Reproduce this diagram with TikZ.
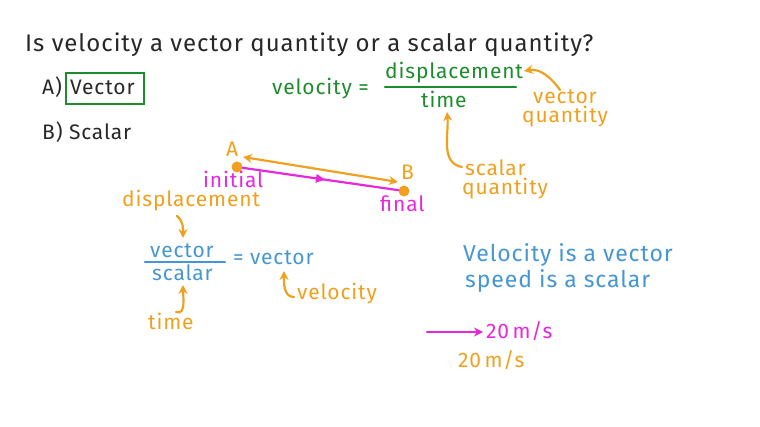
\documentclass[tikz,border=0pt]{standalone}
\usepackage{fontspec}
\setmainfont{Fira Sans}[LetterSpace=4]
\usetikzlibrary{arrows.meta}
\definecolor{ink}{RGB}{40,40,40}
\definecolor{grn}{RGB}{30,140,45}
\definecolor{org}{RGB}{240,160,30}
\definecolor{mag}{RGB}{230,40,220}
\definecolor{blu}{RGB}{70,150,210}
\tikzset{
  txt/.style={inner sep=0pt, anchor=base west, font=\fontsize{21}{24}\selectfont},
  two/.style={inner sep=0pt, anchor=base west, align=left, font=\fontsize{21}{19.5}\selectfont},
  big/.style={txt, font=\fontsize{24}{28}\selectfont},
  bl/.style={txt, font=\fontsize{23}{26}\selectfont},
  arr/.style={line width=2.2pt, line cap=round, -{Stealth[length=9pt,width=9pt]}},
  dot/.style={circle, fill=org, inner sep=0pt, minimum size=11pt},
}
\begin{document}
\begin{tikzpicture}[x=1pt,y=-1pt]
\useasboundingbox (0,0) rectangle (760,427);
% title
\node[big, text=ink] (title) at (25,52) {Is velocity a vector quantity or a scalar quantity?};
% answers
\node[txt, text=ink] (a) at (42,95) {A)};
\node[draw=grn, line width=2.2pt, anchor=north west, minimum width=78pt, minimum height=31pt, inner sep=0pt] (box) at (65,72) {};
\node[txt, text=ink] (av) at (70,95) {Vector};
\node[txt, text=ink] (b) at (42,140) {B) Scalar};
% velocity formula
\node[txt, text=grn] (vel) at (272,95) {velocity =};
\node[txt, text=grn] (disp) at (385,79) {displacement};
\coordinate (fl1) at (385,87);
\coordinate (fl2) at (516,87);
\draw[grn, line width=2.4pt, line cap=round] (fl1) -- (fl2);
\node[txt, text=grn] (time) at (421,108) {time};
% vector quantity label
\node[two, text=org] (vq) at (522,123) {\hspace*{11pt}vector\\quantity};
\coordinate (vqs) at (560,90);
\coordinate (vqe) at (524,71);
\draw[arr, org] (vqs) to[out=125,in=10] (vqe);
% scalar quantity
\node[two, text=org] (sq) at (462,195) {\hspace*{3pt}scalar\\quantity};
\coordinate (sqs) at (462,167);
\coordinate (sqe) at (447,112);
\draw[arr, org] (sqs) to[out=170,in=-85] (sqe);
% A and B
\node[txt, text=org] (lA) at (226,157) {A};
\node[txt, text=org] (lB) at (401,180) {B};
\node[dot] (dA) at (237,167) {};
\node[dot] (dB) at (404,191) {};
\coordinate (oA) at (243,157);
\coordinate (oB) at (398,182);
\draw[line width=2.2pt, org, line cap=round, {Stealth[length=9pt,width=9pt]}-{Stealth[length=9pt,width=9pt]}] (oA) -- (oB);
\draw[line width=2.2pt, mag, line cap=round] (dA) -- (dB);
\path (dA) -- node[sloped, pos=0.5, inner sep=0pt]{\tikz\fill[mag] (0,0) -- (-9pt,4.5pt) -- (-9pt,-4.5pt) -- cycle;} (dB);
\node[txt, text=mag] (ini) at (203,188) {initial};
\node[txt, text=mag] (fin) at (380,212) {final};
% displacement / time
\node[txt, text=org] (disp2) at (122,207) {displacement};
\coordinate (d2s) at (177,216);
\coordinate (d2e) at (183,238);
\draw[arr, org] (d2s) to[out=-40,in=90] (d2e);
\node[txt, text=blu] (vec) at (150,258) {vector};
\coordinate (f2a) at (145,262);
\coordinate (f2b) at (225,262);
\draw[blu, line width=2.4pt, line cap=round] (f2a) -- (f2b);
\node[txt, text=blu] (sca) at (152,281) {scalar};
\node[txt, text=blu] (eqv) at (233,265) {= vector};
\node[txt, text=org] (tim2) at (148,330) {time};
\coordinate (t2s) at (176,312);
\coordinate (t2e) at (183,285);
\draw[arr, org] (t2s) to[out=-20,in=-90] (t2e);
\node[txt, text=org] (vel2) at (297,300) {velocity};
\coordinate (v2s) at (294,297);
\coordinate (v2e) at (284,271);
\draw[arr, org] (v2s) to[out=180,in=-90] (v2e);
% statements
\node[bl, text=blu] (s1) at (463,262) {Velocity is a vector};
\node[bl, text=blu] (s2) at (465,288) {speed is a scalar};
% speeds
\coordinate (m1) at (427,332);
\node[txt, text=mag] (m20) at (486,338) {20\,m/s};
\draw[arr, mag] (m1) -- ([xshift=-3pt]m20.west |- m1);
\node[txt, text=org] (o20) at (458,367) {20\,m/s};
\end{tikzpicture}
\end{document}
